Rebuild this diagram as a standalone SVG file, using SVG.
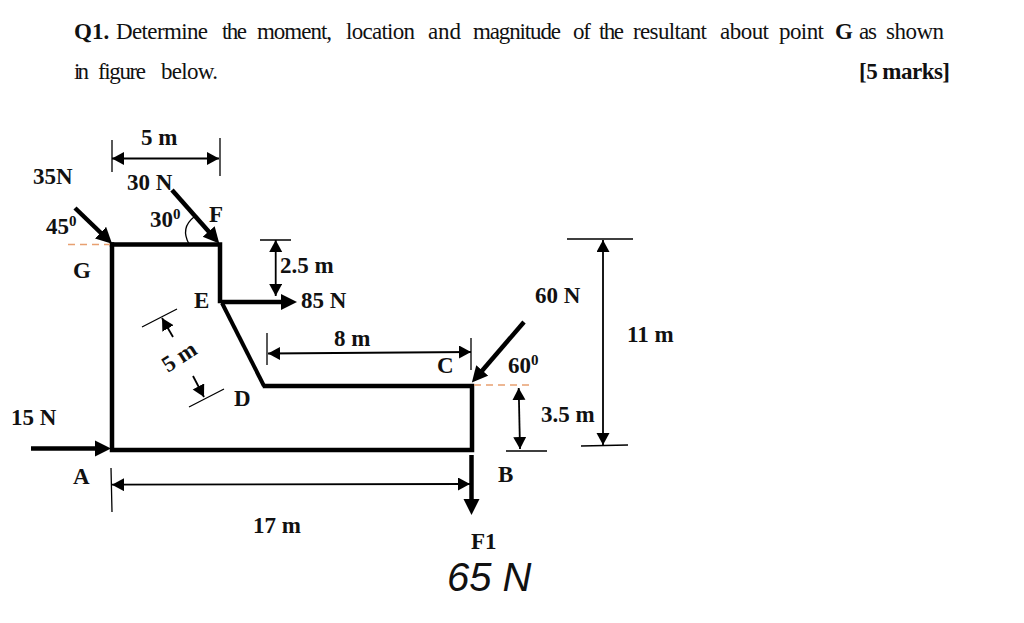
<svg xmlns="http://www.w3.org/2000/svg" width="1024" height="623" viewBox="0 0 1024 623">
<style>
text{font-family:"Liberation Serif","Times New Roman",serif;fill:#111}
.p{font-size:23px}
.b{font-size:23px;font-weight:bold}
.s{font-size:15px;font-weight:bold}
.hand{font-family:"Liberation Sans",Arial,sans-serif;font-style:italic;font-size:40px}
.o{fill:none;stroke:#000;stroke-width:4.5;stroke-linecap:square}
.f{fill:none;stroke:#000;stroke-width:4.5}
.d{fill:none;stroke:#000;stroke-width:1.8}
.t{fill:none;stroke:#000;stroke-width:1.3}
.dash{fill:none;stroke:#e8a070;stroke-width:1.5;stroke-dasharray:7 5}
.arc{fill:none;stroke:#000;stroke-width:1.3}
</style>
<defs>
<marker id="big" markerUnits="userSpaceOnUse" markerWidth="18" markerHeight="18" refX="2" refY="8.5" orient="auto"><path d="M0,0.5L16,8.5L0,16.5Z" fill="#000"/></marker>
<marker id="dim" markerUnits="userSpaceOnUse" markerWidth="13" markerHeight="14" refX="12" refY="6.5" orient="auto-start-reverse"><path d="M0,0L12,6.5L0,13Z" fill="#000"/></marker>
</defs>
<g id="heading">
<text class="b" x="74" y="39">Q1.</text>
<text class="p" y="39"><tspan x="116" textLength="92">Determine</tspan><tspan x="222" textLength="25">the</tspan><tspan x="257" textLength="75">moment,</tspan><tspan x="346" textLength="69">location</tspan><tspan x="428" textLength="33">and</tspan><tspan x="473" textLength="88">magnitude</tspan><tspan x="573" textLength="18">of</tspan><tspan x="599" textLength="25">the</tspan><tspan x="633" textLength="74">resultant</tspan><tspan x="720" textLength="49">about</tspan><tspan x="779" textLength="45">point</tspan></text>
<text class="b" x="835" y="39">G</text>
<text class="p" y="39"><tspan x="859" textLength="18">as</tspan><tspan x="886" textLength="58">shown</tspan></text>
<text class="p" y="79"><tspan x="74" textLength="15">in</tspan><tspan x="98" textLength="48">figure</tspan><tspan x="161" textLength="57">below.</tspan></text>
<text class="b" x="859" y="79" textLength="91">[5 marks]</text>
</g>
<g id="body">
<path class="o" d="M112,244.5H220V301"/>
<path class="o" d="M112,244.5V450H472V386H265"/>
<path d="M222,303L264,386" fill="none" stroke="#000" stroke-width="4"/>
<path class="dash" d="M68,244.5H110M474,385H532"/>
<path class="arc" d="M189,244C183,233 185,224 194,217"/>
</g>
<g id="connectors">
<path class="f" marker-end="url(#big)" d="M75,208L102,234"/>
<path class="f" marker-end="url(#big)" d="M172,190L210,233"/>
<path class="f" marker-end="url(#big)" d="M221,302H283"/>
<path class="f" marker-end="url(#big)" d="M524,322L481,372"/>
<path class="f" marker-end="url(#big)" d="M31,448.5H97"/>
<path class="f" marker-end="url(#big)" d="M471.5,455V501"/>
<path class="t" d="M112,140V172M220,138V176M260,240H291M142,327L177,309M189,407L224,389M267,333V365M471,338V370M111,468L112,512M567,239H633M581,446L628,445M506,451H547"/>
<path class="d" marker-start="url(#dim)" marker-end="url(#dim)" d="M112,158.5H219"/>
<path class="d" marker-start="url(#dim)" marker-end="url(#dim)" d="M275.7,240V296"/>
<path class="d" marker-end="url(#dim)" d="M173,337L162,318"/>
<path class="d" marker-end="url(#dim)" d="M193,376L204,397"/>
<path class="d" marker-start="url(#dim)" marker-end="url(#dim)" d="M268,353.5L471,352"/>
<path class="d" marker-start="url(#dim)" marker-end="url(#dim)" d="M112,484.7L470,484"/>
<path class="d" marker-start="url(#dim)" marker-end="url(#dim)" d="M603,240V445"/>
<path class="d" marker-start="url(#dim)" marker-end="url(#dim)" d="M518.7,388L520,449"/>
</g>
<g id="labels">
<text class="b" x="141" y="145">5 m</text>
<text class="b" x="33" y="184">35N</text>
<text class="b" x="127" y="190">30 N</text>
<text class="b" x="150" y="227">30</text><text class="s" x="173" y="219">0</text>
<text class="b" x="46" y="234">45</text><text class="s" x="69" y="226">0</text>
<text class="b" x="209" y="222">F</text>
<text class="b" x="73" y="278">G</text>
<text class="b" x="280" y="273">2.5 m</text>
<text class="b" x="194" y="308">E</text>
<text class="b" x="301" y="308">85 N</text>
<text class="b" x="11" y="425">15 N</text>
<text class="b" x="73" y="484">A</text>
<text class="b" x="234" y="406">D</text>
<text class="b" transform="translate(168,373) rotate(-33)">5 m</text>
<text class="b" x="334" y="346">8 m</text>
<text class="b" x="437" y="373">C</text>
<text class="b" x="535" y="303">60 N</text>
<text class="b" x="508" y="373">60</text><text class="s" x="531" y="365">0</text>
<text class="b" x="627" y="342">11 m</text>
<text class="b" x="541" y="422">3.5 m</text>
<text class="b" x="498" y="482">B</text>
<text class="b" x="253" y="533">17 m</text>
<text class="b" x="471" y="549">F1</text>
<text class="hand" x="447" y="591">65 N</text>
</g>
</svg>
